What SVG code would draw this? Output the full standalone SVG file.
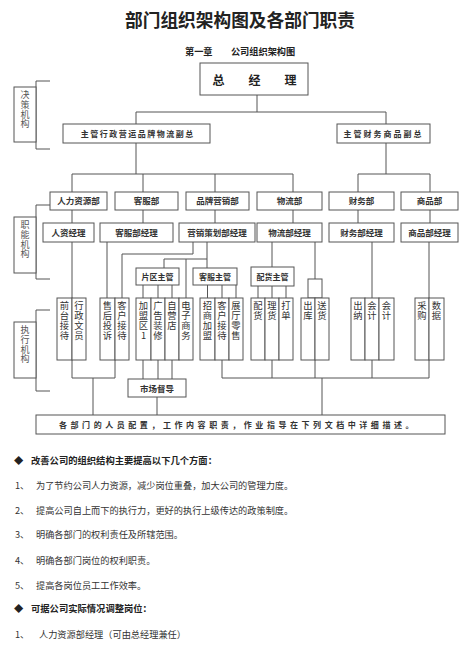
<svg xmlns="http://www.w3.org/2000/svg" width="474" height="670" viewBox="0 0 474 670">
<style>
.bg{fill:#fff}
.b{fill:#fff;stroke:#555;stroke-width:1}
.l{fill:none;stroke:#555;stroke-width:1}
.t{font-family:"Noto Sans CJK SC","Noto Sans",sans-serif;font-weight:bold;font-size:8.5px;fill:#333;text-anchor:middle}
.v{font-family:"Noto Sans CJK SC","Noto Sans",sans-serif;font-size:9.3px;fill:#333;writing-mode:vertical-rl;text-orientation:upright;letter-spacing:0.7px}
.s{font-family:"Noto Sans CJK SC","Noto Sans",sans-serif;font-size:9px;fill:#555;writing-mode:vertical-rl;text-orientation:upright;letter-spacing:0.6px}
.p{font-family:"Noto Sans CJK SC","Noto Sans",sans-serif;font-size:9.2px;fill:#333}
.pb{font-family:"Noto Sans CJK SC","Noto Sans",sans-serif;font-size:9.3px;fill:#222;font-weight:bold}
</style>
<rect class="bg" x="0" y="0" width="474" height="670"/>
<text x="240" y="26.7" style="font-family:'Noto Sans CJK SC',sans-serif;font-weight:bold;font-size:17.7px;fill:#222;text-anchor:middle">部门组织架构图及各部门职责</text>
<text x="185" y="54.5" style="font-family:'Noto Sans CJK SC',sans-serif;font-weight:bold;font-size:9.2px;fill:#222">第一章　　公司组织架构图</text>

<g id="connectors">
<path class="l" d="M257 95V112M136 112H386M136 112V124M386 112V124"/>
<path class="l" d="M136 143V174M72 174H293M72 174V192M143 174V192M215 174V192M293 174V192"/>
<path class="l" d="M386 143V174M358 174H430M358 174V192M430 174V192"/>
<path class="l" d="M72 210V223M143 210V223M215 210V223M293 210V223M358 210V223M430 210V223"/>
<path class="l" d="M72 242V298M107 242V298M193 242V254H122V298"/>
<path class="l" d="M207 242V268M164 259H207M164 259V268M186 259V298"/>
<path class="l" d="M143 285V298M158 285V298M172 285V298M207.5 285V298M222 285V298M236 285V298"/>
<path class="l" d="M272 242V267M258 286V298M272 286V298M286 286V298M315 242V279M372 242V298M429 242V298"/>
<path class="l" d="M72 360V378M115 360V378M72 378H115M93 378V415"/>
<path class="l" d="M143 360V379M158 360V379M172 360V379M157 397V415"/>
<path class="l" d="M222 360V378M272 360V378M315 360V378M372 360V378M429 360V378M222 378H429M322 378V415"/>
<path class="l" d="M50 81H36V149H50M50 205H36V279H50M50 310H36V391H50"/>
</g>

<g id="label-juece"><rect class="b" x="14" y="87" width="22" height="55"/><text class="s" x="25" y="90.5">决策机构</text></g>
<g id="label-zhineng"><rect class="b" x="14" y="217" width="22" height="56"/><text class="s" x="25" y="220.5">职能机构</text></g>
<g id="label-zhixing"><rect class="b" x="14" y="322" width="22" height="56"/><text class="s" x="25" y="325.5">执行机构</text></g>

<g id="gm"><rect class="b" x="200" y="63" width="108" height="32"/>
<text x="254.5" y="84.5" style="font-family:'Noto Sans CJK SC',sans-serif;font-weight:bold;font-size:12px;fill:#222;text-anchor:middle">总　　经　　理</text></g>
<g id="vp-ops"><rect class="b" x="63" y="124" width="147" height="19"/>
<text class="t" x="137.8" y="137" style="font-size:8px;letter-spacing:1.5px">主管行政营运品牌物流副总</text></g>
<g id="vp-fin"><rect class="b" x="337" y="124" width="93" height="19"/>
<text class="t" x="383.5" y="137" style="font-size:8px;letter-spacing:2px">主管财务商品副总</text></g>

<g id="hr"><rect class="b" x="50" y="192" width="57" height="18"/><text class="t" x="78.5" y="204">人力资源部</text></g>
<g id="cs"><rect class="b" x="115" y="192" width="63" height="18"/><text class="t" x="146.5" y="204">客服部</text></g>
<g id="brand"><rect class="b" x="186" y="192" width="63" height="18"/><text class="t" x="217.5" y="204">品牌营销部</text></g>
<g id="logi"><rect class="b" x="257" y="192" width="65" height="18"/><text class="t" x="289.5" y="204">物流部</text></g>
<g id="fin"><rect class="b" x="329" y="192" width="65" height="18"/><text class="t" x="361.5" y="204">财务部</text></g>
<g id="goods"><rect class="b" x="401" y="192" width="57" height="18"/><text class="t" x="429.5" y="204">商品部</text></g>

<g id="hr-mgr"><rect class="b" x="43" y="223" width="51" height="19"/><text class="t" x="68.5" y="235.5">人资经理</text></g>
<g id="cs-mgr"><rect class="b" x="100" y="223" width="73" height="19"/><text class="t" x="136.5" y="235.5">客服部经理</text></g>
<g id="mkt-mgr"><rect class="b" x="179" y="223" width="76" height="19"/><text class="t" x="217" y="235.5">营销策划部经理</text></g>
<g id="logi-mgr"><rect class="b" x="257" y="223" width="65" height="19"/><text class="t" x="289.5" y="235.5">物流部经理</text></g>
<g id="fin-mgr"><rect class="b" x="329" y="223" width="65" height="19"/><text class="t" x="361.5" y="235.5">财务部经理</text></g>
<g id="goods-mgr"><rect class="b" x="401" y="223" width="57" height="19"/><text class="t" x="429.5" y="235.5">商品部经理</text></g>

<g id="area-sup"><rect class="b" x="136" y="268" width="43" height="17"/><text class="t" x="157.5" y="279.5" style="font-size:8px">片区主管</text></g>
<g id="cs-sup"><rect class="b" x="193" y="268" width="44" height="17"/><text class="t" x="215" y="279.5" style="font-size:8px">客服主管</text></g>
<g id="dist-sup"><rect class="b" x="251" y="267" width="43" height="19"/><text class="t" x="272.5" y="279.5" style="font-size:8px">配货主管</text></g>
<g id="small-box"><rect class="b" x="308" y="279" width="14" height="19"/></g>

<g id="col-qiantai"><rect class="b" x="57" y="298" width="15" height="62"/><text class="v" x="64.5" y="300.5">前台接待</text></g>
<g id="col-xingzheng"><rect class="b" x="72" y="298" width="14" height="62"/><text class="v" x="79" y="300.5">行政文员</text></g>
<g id="col-shouhou"><rect class="b" x="100" y="298" width="15" height="62"/><text class="v" x="107.5" y="300.5">售后投诉</text></g>
<g id="col-kehu1"><rect class="b" x="115" y="298" width="14" height="62"/><text class="v" x="122" y="300.5">客户接待</text></g>
<g id="col-jiameng"><rect class="b" x="136" y="298" width="15" height="62"/><text class="v" x="143.5" y="300.5">加盟区1</text></g>
<g id="col-guanggao"><rect class="b" x="151" y="298" width="14" height="62"/><text class="v" x="158" y="300.5">广告装修</text></g>
<g id="col-ziying"><rect class="b" x="165" y="298" width="14" height="62"/><text class="v" x="172" y="300.5">自营店</text></g>
<g id="col-dianzi"><rect class="b" x="179" y="298" width="14" height="62"/><text class="v" x="186" y="300.5">电子商务</text></g>
<g id="col-zhaoshang"><rect class="b" x="200" y="298" width="15" height="62"/><text class="v" x="207.5" y="300.5">招商加盟</text></g>
<g id="col-kehu2"><rect class="b" x="215" y="298" width="14" height="62"/><text class="v" x="222" y="300.5">客户接待</text></g>
<g id="col-zhanting"><rect class="b" x="229" y="298" width="14" height="62"/><text class="v" x="236" y="300.5">展厅零售</text></g>
<g id="col-peihuo"><rect class="b" x="251" y="298" width="14" height="62"/><text class="v" x="258" y="300.5">配货</text></g>
<g id="col-lihuo"><rect class="b" x="265" y="298" width="14" height="62"/><text class="v" x="272" y="300.5">理货</text></g>
<g id="col-dadan"><rect class="b" x="279" y="298" width="14" height="62"/><text class="v" x="286" y="300.5">打单</text></g>
<g id="col-chuku"><rect class="b" x="301" y="298" width="14" height="62"/><text class="v" x="308" y="300.5">出库</text></g>
<g id="col-songhuo"><rect class="b" x="315" y="298" width="14" height="62"/><text class="v" x="322" y="300.5">送货</text></g>
<g id="col-chuna"><rect class="b" x="351" y="298" width="14" height="62"/><text class="v" x="358" y="300.5">出纳</text></g>
<g id="col-kuaiji1"><rect class="b" x="365" y="298" width="14" height="62"/><text class="v" x="372" y="300.5">会计</text></g>
<g id="col-kuaiji2"><rect class="b" x="379" y="298" width="15" height="62"/><text class="v" x="386.5" y="300.5">会计</text></g>
<g id="col-caigou"><rect class="b" x="415" y="298" width="14" height="62"/><text class="v" x="422" y="300.5">采购</text></g>
<g id="col-shuju"><rect class="b" x="429" y="298" width="15" height="62"/><text class="v" x="436.5" y="300.5">数据</text></g>

<g id="market-sup"><rect class="b" x="128" y="379" width="58" height="18"/><text class="t" x="157" y="391.5">市场督导</text></g>
<g id="note"><rect class="b" x="36" y="415" width="409" height="19"/>
<text x="59" y="428" style="font-family:'Noto Sans CJK SC',sans-serif;font-weight:bold;font-size:8px;fill:#333;letter-spacing:3.55px">各部门的人员配置，工作内容职责，作业指导在下列文档中详细描述。</text></g>

<g id="body">
<text class="pb" x="14" y="463.5">◆</text><text class="pb" x="31" y="463.5">改善公司的组织结构主要提高以下几个方面：</text>
<text class="p" x="15" y="488.5">1、</text><text class="p" x="36" y="488.5">为了节约公司人力资源，减少岗位重叠，加大公司的管理力度。</text>
<text class="p" x="15" y="513.5">2、</text><text class="p" x="36" y="513.5">提高公司自上而下的执行力，更好的执行上级传达的政策制度。</text>
<text class="p" x="15" y="537.5">3、</text><text class="p" x="36" y="537.5">明确各部门的权利责任及所辖范围。</text>
<text class="p" x="15" y="563.5">4、</text><text class="p" x="36" y="563.5">明确各部门岗位的权利职责。</text>
<text class="p" x="15" y="588.5">5、</text><text class="p" x="36" y="588.5">提高各岗位员工工作效率。</text>
<text class="pb" x="14" y="611.5">◆</text><text class="pb" x="31" y="611.5">可据公司实际情况调整岗位：</text>
<text class="p" x="15" y="637.5">1、</text><text class="p" x="39" y="637.5">人力资源部经理（可由总经理兼任）</text>
</g>
</svg>
